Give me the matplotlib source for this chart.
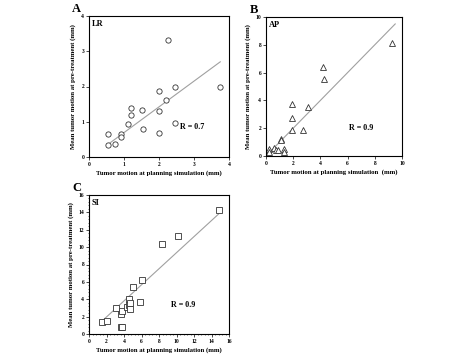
import numpy as np
import matplotlib.pyplot as plt
from matplotlib.ticker import MultipleLocator

plt.rcParams['font.family'] = ['Liberation Serif', 'DejaVu Serif']
plt.rcParams['font.weight'] = 'bold'

# panel A (LR)
lr_x = [0.55, 0.55, 0.75, 0.9, 0.9, 1.1, 1.2, 1.2, 1.5, 1.55, 2.0, 2.0, 2.0, 2.2, 2.25, 2.45, 2.45, 3.75]
lr_y = [0.65, 0.33, 0.37, 0.65, 0.58, 0.95, 1.2, 1.4, 1.32, 0.8, 1.88, 1.3, 0.68, 1.63, 3.32, 2.0, 0.97, 2.0]
lr_fit = ([0.6, 3.75], [0.4, 2.7])

# panel B (AP)
ap_x = [0.2, 0.2, 0.6, 0.7, 0.9, 1.3, 1.3, 1.1, 1.1, 1.9, 1.9, 1.9, 2.7, 3.1, 4.2, 4.3, 9.3]
ap_y = [0.5, 0.3, 0.6, 0.4, 0.4, 0.5, 0.3, 1.2, 1.15, 3.75, 2.7, 1.85, 1.9, 3.5, 6.4, 5.55, 8.1]
ap_fit = ([0.3, 9.5], [0.3, 9.5])

# panel C (SI)
si_x = [1.5, 2.0, 3.1, 3.6, 3.6, 3.8, 3.8, 4.3, 4.6, 4.6, 4.7, 4.7, 5.0, 5.8, 6.1, 8.3, 10.2, 14.8]
si_y = [1.4, 1.45, 3.0, 2.3, 0.75, 0.75, 2.7, 3.1, 3.3, 4.0, 2.9, 3.6, 5.4, 3.7, 6.2, 10.4, 11.3, 14.3]
si_fit = ([1.5, 14.8], [1.5, 13.8])

xlab = 'Tumor motion at planning simulation (mm)'
ylab = 'Mean tumor motion at pre-treatment (mm)'

fig = plt.figure(figsize=(4.74, 3.58), dpi=100)
W, H = 474, 358

def mkax(l, r, t, b):
    return fig.add_axes([l / W, 1 - b / H, (r - l) / W, (b - t) / H])

def panel(ax, x, y, fit, mk, lim, step, tag, letter, rtxt, rpos, xl):
    ax.plot(fit[0], fit[1], color='#a0a0a0', lw=0.8)
    ax.plot(x, y, mk, ms=3.8, mfc='white', mec='#333333', mew=0.6, ls='none')
    ax.set_xlim(0, lim)
    ax.set_ylim(0, lim)
    ax.xaxis.set_major_locator(MultipleLocator(step))
    ax.yaxis.set_major_locator(MultipleLocator(step))
    ax.tick_params(labelsize=4, length=2, width=0.5, pad=1.5)
    for s in ax.spines.values():
        s.set_linewidth(0.8)
    ax.set_xlabel(xl, fontsize=4.9, fontweight='bold', labelpad=2.5)
    ax.set_ylabel(ylab, fontsize=4.9, fontweight='bold', labelpad=3.5)
    ax.text(0.02, 0.97, tag, transform=ax.transAxes, fontsize=6, fontweight='bold', va='top')
    ax.text(rpos[0], rpos[1], rtxt, fontsize=5.8, fontweight='bold', ha='center', va='center')
    ax.text(-0.12, 1.01, letter, transform=ax.transAxes, fontsize=9, fontweight='bold', va='bottom')

axA = mkax(89, 229, 16, 157)
panel(axA, lr_x, lr_y, lr_fit, 'o', 4, 1, 'LR', 'A', 'R = 0.7', (2.95, 0.85), xlab)

axB = mkax(266, 402, 17, 156)
panel(axB, ap_x, ap_y, ap_fit, '^', 10, 2, 'AP', 'B', 'R = 0.9', (7.0, 2.0), 'Tumor motion at planning simulation  (mm)')

axC = mkax(89, 229, 195, 334)
panel(axC, si_x, si_y, si_fit, 's', 16, 2, 'SI', 'C', 'R = 0.9', (10.8, 3.3), xlab)
axC.xaxis.set_minor_locator(MultipleLocator(0.4))
axC.yaxis.set_minor_locator(MultipleLocator(0.4))
axC.tick_params(which='minor', length=1, width=0.4)

fig.savefig('out.png', dpi=100)
